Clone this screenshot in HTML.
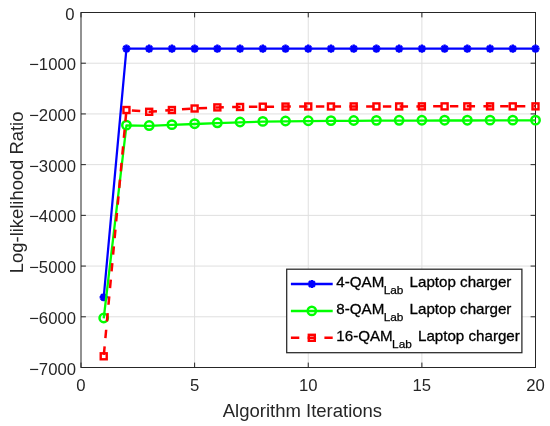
<!DOCTYPE html>
<html lang="en"><head><meta charset="utf-8"><title>Log-likelihood Ratio vs Algorithm Iterations</title>
<style>
html,body{margin:0;padding:0;background:#ffffff;}
body{width:550px;height:426px;overflow:hidden;font-family:"Liberation Sans",sans-serif;}
svg text{white-space:pre;}
</style></head><body>
<svg width="550" height="426" viewBox="0 0 550 426" style="display:block">
<rect x="0" y="0" width="550" height="426" fill="#ffffff"/>
<g stroke="#dfdfdf" stroke-width="1" fill="none">
<line x1="194.62" y1="12.5" x2="194.62" y2="367.5"/>
<line x1="308.25" y1="12.5" x2="308.25" y2="367.5"/>
<line x1="421.88" y1="12.5" x2="421.88" y2="367.5"/>
<line x1="81.0" y1="316.79" x2="535.5" y2="316.79"/>
<line x1="81.0" y1="266.07" x2="535.5" y2="266.07"/>
<line x1="81.0" y1="215.36" x2="535.5" y2="215.36"/>
<line x1="81.0" y1="164.64" x2="535.5" y2="164.64"/>
<line x1="81.0" y1="113.93" x2="535.5" y2="113.93"/>
<line x1="81.0" y1="63.21" x2="535.5" y2="63.21"/>
</g>
<g stroke="#262626" stroke-width="1" fill="none">
<rect x="81.0" y="12.5" width="454.5" height="355.0"/>
<line x1="81.00" y1="367.5" x2="81.00" y2="362.6"/>
<line x1="81.00" y1="12.5" x2="81.00" y2="17.4"/>
<line x1="194.62" y1="367.5" x2="194.62" y2="362.6"/>
<line x1="194.62" y1="12.5" x2="194.62" y2="17.4"/>
<line x1="308.25" y1="367.5" x2="308.25" y2="362.6"/>
<line x1="308.25" y1="12.5" x2="308.25" y2="17.4"/>
<line x1="421.88" y1="367.5" x2="421.88" y2="362.6"/>
<line x1="421.88" y1="12.5" x2="421.88" y2="17.4"/>
<line x1="535.50" y1="367.5" x2="535.50" y2="362.6"/>
<line x1="535.50" y1="12.5" x2="535.50" y2="17.4"/>
<line x1="81.0" y1="367.50" x2="85.9" y2="367.50"/>
<line x1="535.5" y1="367.50" x2="530.6" y2="367.50"/>
<line x1="81.0" y1="316.79" x2="85.9" y2="316.79"/>
<line x1="535.5" y1="316.79" x2="530.6" y2="316.79"/>
<line x1="81.0" y1="266.07" x2="85.9" y2="266.07"/>
<line x1="535.5" y1="266.07" x2="530.6" y2="266.07"/>
<line x1="81.0" y1="215.36" x2="85.9" y2="215.36"/>
<line x1="535.5" y1="215.36" x2="530.6" y2="215.36"/>
<line x1="81.0" y1="164.64" x2="85.9" y2="164.64"/>
<line x1="535.5" y1="164.64" x2="530.6" y2="164.64"/>
<line x1="81.0" y1="113.93" x2="85.9" y2="113.93"/>
<line x1="535.5" y1="113.93" x2="530.6" y2="113.93"/>
<line x1="81.0" y1="63.21" x2="85.9" y2="63.21"/>
<line x1="535.5" y1="63.21" x2="530.6" y2="63.21"/>
<line x1="81.0" y1="12.50" x2="85.9" y2="12.50"/>
<line x1="535.5" y1="12.50" x2="530.6" y2="12.50"/>
</g>
<g font-family="'Liberation Sans', sans-serif" font-size="16.7" fill="#262626">
<text x="81.00" y="391.1" text-anchor="middle">0</text>
<text x="194.62" y="391.1" text-anchor="middle">5</text>
<text x="308.25" y="391.1" text-anchor="middle">10</text>
<text x="421.88" y="391.1" text-anchor="middle">15</text>
<text x="535.50" y="391.1" text-anchor="middle">20</text>
<text x="76.0" y="374.60" text-anchor="end">−7000</text>
<text x="76.0" y="323.89" text-anchor="end">−6000</text>
<text x="76.0" y="273.17" text-anchor="end">−5000</text>
<text x="76.0" y="222.46" text-anchor="end">−4000</text>
<text x="76.0" y="171.74" text-anchor="end">−3000</text>
<text x="76.0" y="121.03" text-anchor="end">−2000</text>
<text x="76.0" y="70.31" text-anchor="end">−1000</text>
<text x="74.5" y="19.60" text-anchor="end">0</text>
</g>
<g font-family="'Liberation Sans', sans-serif" font-size="18.5" fill="#262626">
<text x="302.45" y="417.0" text-anchor="middle">Algorithm Iterations</text>
<text transform="translate(23.0 192.4) rotate(-90)" font-size="18.4" text-anchor="middle">Log-likelihood Ratio</text>
</g>
<clipPath id="c"><rect x="81.0" y="12.5" width="459.0" height="355.0"/></clipPath>
<g>
<polyline points="103.72,297.26 126.45,48.66 149.18,48.66 171.90,48.66 194.62,48.66 217.35,48.66 240.07,48.66 262.80,48.66 285.52,48.66 308.25,48.66 330.98,48.66 353.70,48.66 376.43,48.66 399.15,48.66 421.88,48.66 444.60,48.66 467.32,48.66 490.05,48.66 512.77,48.66 535.50,48.66" fill="none" stroke="#0000ff" stroke-width="2.25" stroke-linejoin="round"/>
<path d="M99.62 297.26H107.82M103.72 293.16V301.36M100.83 294.36L106.62 300.16M100.83 300.16L106.62 294.36" stroke="#0000ff" stroke-width="2.4" fill="none"/>
<path d="M122.35 48.66H130.55M126.45 44.56V52.76M123.55 45.76L129.35 51.56M123.55 51.56L129.35 45.76" stroke="#0000ff" stroke-width="2.4" fill="none"/>
<path d="M145.08 48.66H153.28M149.18 44.56V52.76M146.28 45.76L152.07 51.56M146.28 51.56L152.07 45.76" stroke="#0000ff" stroke-width="2.4" fill="none"/>
<path d="M167.80 48.66H176.00M171.90 44.56V52.76M169.00 45.76L174.80 51.56M169.00 51.56L174.80 45.76" stroke="#0000ff" stroke-width="2.4" fill="none"/>
<path d="M190.53 48.66H198.72M194.62 44.56V52.76M191.73 45.76L197.52 51.56M191.73 51.56L197.52 45.76" stroke="#0000ff" stroke-width="2.4" fill="none"/>
<path d="M213.25 48.66H221.45M217.35 44.56V52.76M214.45 45.76L220.25 51.56M214.45 51.56L220.25 45.76" stroke="#0000ff" stroke-width="2.4" fill="none"/>
<path d="M235.97 48.66H244.17M240.07 44.56V52.76M237.18 45.76L242.97 51.56M237.18 51.56L242.97 45.76" stroke="#0000ff" stroke-width="2.4" fill="none"/>
<path d="M258.70 48.66H266.90M262.80 44.56V52.76M259.90 45.76L265.70 51.56M259.90 51.56L265.70 45.76" stroke="#0000ff" stroke-width="2.4" fill="none"/>
<path d="M281.42 48.66H289.62M285.52 44.56V52.76M282.63 45.76L288.42 51.56M282.63 51.56L288.42 45.76" stroke="#0000ff" stroke-width="2.4" fill="none"/>
<path d="M304.15 48.66H312.35M308.25 44.56V52.76M305.35 45.76L311.15 51.56M305.35 51.56L311.15 45.76" stroke="#0000ff" stroke-width="2.4" fill="none"/>
<path d="M326.88 48.66H335.08M330.98 44.56V52.76M328.08 45.76L333.87 51.56M328.08 51.56L333.87 45.76" stroke="#0000ff" stroke-width="2.4" fill="none"/>
<path d="M349.60 48.66H357.80M353.70 44.56V52.76M350.80 45.76L356.60 51.56M350.80 51.56L356.60 45.76" stroke="#0000ff" stroke-width="2.4" fill="none"/>
<path d="M372.32 48.66H380.53M376.43 44.56V52.76M373.53 45.76L379.32 51.56M373.53 51.56L379.32 45.76" stroke="#0000ff" stroke-width="2.4" fill="none"/>
<path d="M395.05 48.66H403.25M399.15 44.56V52.76M396.25 45.76L402.05 51.56M396.25 51.56L402.05 45.76" stroke="#0000ff" stroke-width="2.4" fill="none"/>
<path d="M417.77 48.66H425.98M421.88 44.56V52.76M418.98 45.76L424.77 51.56M418.98 51.56L424.77 45.76" stroke="#0000ff" stroke-width="2.4" fill="none"/>
<path d="M440.50 48.66H448.70M444.60 44.56V52.76M441.70 45.76L447.50 51.56M441.70 51.56L447.50 45.76" stroke="#0000ff" stroke-width="2.4" fill="none"/>
<path d="M463.22 48.66H471.43M467.32 44.56V52.76M464.43 45.76L470.22 51.56M464.43 51.56L470.22 45.76" stroke="#0000ff" stroke-width="2.4" fill="none"/>
<path d="M485.95 48.66H494.15M490.05 44.56V52.76M487.15 45.76L492.95 51.56M487.15 51.56L492.95 45.76" stroke="#0000ff" stroke-width="2.4" fill="none"/>
<path d="M508.67 48.66H516.88M512.77 44.56V52.76M509.88 45.76L515.67 51.56M509.88 51.56L515.67 45.76" stroke="#0000ff" stroke-width="2.4" fill="none"/>
<path d="M531.40 48.66H539.60M535.50 44.56V52.76M532.60 45.76L538.40 51.56M532.60 51.56L538.40 45.76" stroke="#0000ff" stroke-width="2.4" fill="none"/>
<polyline points="103.72,318.31 126.45,125.44 149.18,125.85 171.90,124.93 194.62,124.02 217.35,123.11 240.07,122.30 262.80,121.69 285.52,121.28 308.25,121.03 330.98,120.88 353.70,120.78 376.43,120.67 399.15,120.62 421.88,120.57 444.60,120.52 467.32,120.52 490.05,120.47 512.77,120.47 535.50,120.47" fill="none" stroke="#00ff00" stroke-width="2.3" stroke-linejoin="round"/>
<circle cx="103.72" cy="318.01" r="4.2" fill="none" stroke="#00ff00" stroke-width="2.5"/>
<circle cx="126.45" cy="125.14" r="4.2" fill="none" stroke="#00ff00" stroke-width="2.5"/>
<circle cx="149.18" cy="125.55" r="4.2" fill="none" stroke="#00ff00" stroke-width="2.5"/>
<circle cx="171.90" cy="124.63" r="4.2" fill="none" stroke="#00ff00" stroke-width="2.5"/>
<circle cx="194.62" cy="123.72" r="4.2" fill="none" stroke="#00ff00" stroke-width="2.5"/>
<circle cx="217.35" cy="122.81" r="4.2" fill="none" stroke="#00ff00" stroke-width="2.5"/>
<circle cx="240.07" cy="122.00" r="4.2" fill="none" stroke="#00ff00" stroke-width="2.5"/>
<circle cx="262.80" cy="121.39" r="4.2" fill="none" stroke="#00ff00" stroke-width="2.5"/>
<circle cx="285.52" cy="120.98" r="4.2" fill="none" stroke="#00ff00" stroke-width="2.5"/>
<circle cx="308.25" cy="120.73" r="4.2" fill="none" stroke="#00ff00" stroke-width="2.5"/>
<circle cx="330.98" cy="120.58" r="4.2" fill="none" stroke="#00ff00" stroke-width="2.5"/>
<circle cx="353.70" cy="120.48" r="4.2" fill="none" stroke="#00ff00" stroke-width="2.5"/>
<circle cx="376.43" cy="120.37" r="4.2" fill="none" stroke="#00ff00" stroke-width="2.5"/>
<circle cx="399.15" cy="120.32" r="4.2" fill="none" stroke="#00ff00" stroke-width="2.5"/>
<circle cx="421.88" cy="120.27" r="4.2" fill="none" stroke="#00ff00" stroke-width="2.5"/>
<circle cx="444.60" cy="120.22" r="4.2" fill="none" stroke="#00ff00" stroke-width="2.5"/>
<circle cx="467.32" cy="120.22" r="4.2" fill="none" stroke="#00ff00" stroke-width="2.5"/>
<circle cx="490.05" cy="120.17" r="4.2" fill="none" stroke="#00ff00" stroke-width="2.5"/>
<circle cx="512.77" cy="120.17" r="4.2" fill="none" stroke="#00ff00" stroke-width="2.5"/>
<circle cx="535.50" cy="120.17" r="4.2" fill="none" stroke="#00ff00" stroke-width="2.5"/>
<polyline points="103.72,356.29 126.45,110.02 149.18,111.80 171.90,110.02 194.62,108.50 217.35,107.39 240.07,106.98 262.80,106.68 285.52,106.58 308.25,106.47 330.98,106.47 353.70,106.42 376.43,106.42 399.15,106.42 421.88,106.37 444.60,106.37 467.32,106.37 490.05,106.37 512.77,106.37 535.50,106.37" fill="none" stroke="#ff0000" stroke-width="2.5" stroke-dasharray="8.4 8.35" stroke-dashoffset="-1.5" stroke-linejoin="round"/>
<rect x="100.72" y="353.29" width="6.0" height="6.0" fill="none" stroke="#ff0000" stroke-width="2.4"/>
<rect x="123.45" y="107.02" width="6.0" height="6.0" fill="none" stroke="#ff0000" stroke-width="2.4"/>
<rect x="146.18" y="108.80" width="6.0" height="6.0" fill="none" stroke="#ff0000" stroke-width="2.4"/>
<rect x="168.90" y="107.02" width="6.0" height="6.0" fill="none" stroke="#ff0000" stroke-width="2.4"/>
<rect x="191.62" y="105.50" width="6.0" height="6.0" fill="none" stroke="#ff0000" stroke-width="2.4"/>
<rect x="214.35" y="104.39" width="6.0" height="6.0" fill="none" stroke="#ff0000" stroke-width="2.4"/>
<rect x="237.07" y="103.98" width="6.0" height="6.0" fill="none" stroke="#ff0000" stroke-width="2.4"/>
<rect x="259.80" y="103.68" width="6.0" height="6.0" fill="none" stroke="#ff0000" stroke-width="2.4"/>
<rect x="282.52" y="103.58" width="6.0" height="6.0" fill="none" stroke="#ff0000" stroke-width="2.4"/>
<rect x="305.25" y="103.47" width="6.0" height="6.0" fill="none" stroke="#ff0000" stroke-width="2.4"/>
<rect x="327.98" y="103.47" width="6.0" height="6.0" fill="none" stroke="#ff0000" stroke-width="2.4"/>
<rect x="350.70" y="103.42" width="6.0" height="6.0" fill="none" stroke="#ff0000" stroke-width="2.4"/>
<rect x="373.43" y="103.42" width="6.0" height="6.0" fill="none" stroke="#ff0000" stroke-width="2.4"/>
<rect x="396.15" y="103.42" width="6.0" height="6.0" fill="none" stroke="#ff0000" stroke-width="2.4"/>
<rect x="418.88" y="103.37" width="6.0" height="6.0" fill="none" stroke="#ff0000" stroke-width="2.4"/>
<rect x="441.60" y="103.37" width="6.0" height="6.0" fill="none" stroke="#ff0000" stroke-width="2.4"/>
<rect x="464.32" y="103.37" width="6.0" height="6.0" fill="none" stroke="#ff0000" stroke-width="2.4"/>
<rect x="487.05" y="103.37" width="6.0" height="6.0" fill="none" stroke="#ff0000" stroke-width="2.4"/>
<rect x="509.77" y="103.37" width="6.0" height="6.0" fill="none" stroke="#ff0000" stroke-width="2.4"/>
<rect x="532.50" y="103.37" width="6.0" height="6.0" fill="none" stroke="#ff0000" stroke-width="2.4"/>
</g>
<rect x="286.7" y="269.2" width="235.2" height="83.5" fill="#ffffff" stroke="#262626" stroke-width="1.25"/>
<line x1="290.9" y1="284.0" x2="332.7" y2="284.0" stroke="#0000ff" stroke-width="2.5"/>
<path d="M307.70 284.00H315.90M311.80 279.90V288.10M308.90 281.10L314.70 286.90M308.90 286.90L314.70 281.10" stroke="#0000ff" stroke-width="2.4" fill="none"/>
<text x="336.30" y="287.30" font-family="'Liberation Sans', sans-serif" font-size="15.15" fill="#000000" stroke="#000000" stroke-width="0.3">4-QAM</text>
<text x="383.68" y="294.30" font-family="'Liberation Sans', sans-serif" font-size="11.8" fill="#000000" stroke="#000000" stroke-width="0.25">Lab</text>
<text x="409.56" y="287.30" font-family="'Liberation Sans', sans-serif" font-size="15.15" fill="#000000" stroke="#000000" stroke-width="0.3">Laptop charger</text>
<line x1="290.9" y1="310.9" x2="332.7" y2="310.9" stroke="#00ff00" stroke-width="2.5"/>
<circle cx="311.8" cy="310.9" r="4.1" fill="none" stroke="#00ff00" stroke-width="2.5"/>
<text x="336.30" y="314.20" font-family="'Liberation Sans', sans-serif" font-size="15.15" fill="#000000" stroke="#000000" stroke-width="0.3">8-QAM</text>
<text x="383.68" y="321.20" font-family="'Liberation Sans', sans-serif" font-size="11.8" fill="#000000" stroke="#000000" stroke-width="0.25">Lab</text>
<text x="409.56" y="314.20" font-family="'Liberation Sans', sans-serif" font-size="15.15" fill="#000000" stroke="#000000" stroke-width="0.3">Laptop charger</text>
<line x1="290.9" y1="337.8" x2="332.7" y2="337.8" stroke="#ff0000" stroke-width="2.5" stroke-dasharray="8.4 8.35"/>
<rect x="308.8" y="334.8" width="6.0" height="6.0" fill="none" stroke="#ff0000" stroke-width="2.4"/>
<text x="336.30" y="341.10" font-family="'Liberation Sans', sans-serif" font-size="15.15" fill="#000000" stroke="#000000" stroke-width="0.3">16-QAM</text>
<text x="392.10" y="348.10" font-family="'Liberation Sans', sans-serif" font-size="11.8" fill="#000000" stroke="#000000" stroke-width="0.25">Lab</text>
<text x="417.99" y="341.10" font-family="'Liberation Sans', sans-serif" font-size="15.15" fill="#000000" stroke="#000000" stroke-width="0.3">Laptop charger</text>
</svg>
</body></html>
